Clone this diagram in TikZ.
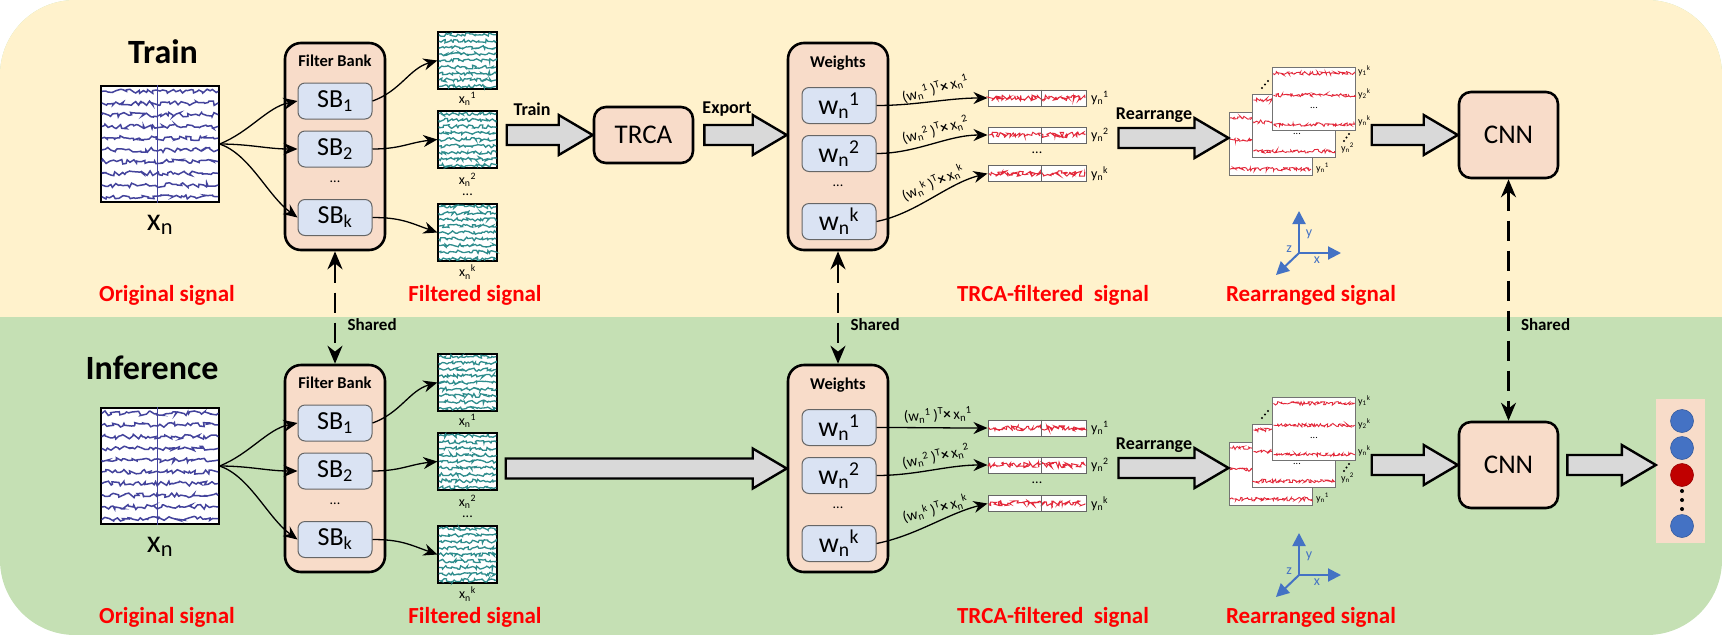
\documentclass[tikz,border=0pt]{standalone}
\usepackage{fontspec}
\setmainfont{Carlito}
\usetikzlibrary{calc,arrows.meta,decorations.pathmorphing}

\definecolor{panelyel}{HTML}{FFF2CC}
\definecolor{panelgrn}{HTML}{C5E0B4}
\definecolor{boxpeach}{HTML}{F8DCC9}
\definecolor{boxblue}{HTML}{DAE3F3}
\definecolor{arrgray}{HTML}{D9D9D9}
\definecolor{sigred}{HTML}{FF0000}
\definecolor{eegblue}{HTML}{43439C}
\definecolor{eegteal}{HTML}{2E8C8C}
\definecolor{trcared}{HTML}{E3283A}
\definecolor{axblue}{HTML}{4472C4}
\definecolor{outred}{HTML}{C00000}

\newcommand\fsz[1]{\fontsize{#1}{#1}\selectfont}
% one noisy trace across a signal box, at a fraction of its height
\newcommand\sigline[3]{\draw[#3] ($(#1.north west)!#2!(#1.south west)+(1.5,0)$) -- ($(#1.north east)!#2!(#1.south east)+(-1.5,0)$);}
\newcommand\traces[3]{\foreach \r [evaluate=\r as \f using (\r-0.5)/#2] in {1,...,#2} {\sigline{#1}{\f}{#3}}}
% fat grey arrow: height taken from the tail, length up to the tip
\newcommand\blockarrow[2]{\draw[bigarr] let \p1=(#1), \p2=(#2) in (\x1,\y1+10pt) -- (\x2-34pt,\y1+10pt) -- (\x2-34pt,\y1+20pt) -- (\x2,\y1) -- (\x2-34pt,\y1-20pt) -- (\x2-34pt,\y1-10pt) -- (\x1,\y1-10pt) -- cycle;}
\newcommand\proj[1]{(w\textsubscript{n}\textsuperscript{#1}\,)\textsuperscript{T}\textbf{×}\,x\textsubscript{n}\textsuperscript{#1}}

\begin{document}
\begin{tikzpicture}[x=1pt,y=-1pt,
  imgbox/.style={draw=black,line width=1.2pt,fill=white,inner sep=0pt},
  stackbox/.style={draw=black!55,line width=1pt,fill=white,inner sep=0pt,minimum width=83pt,minimum height=63pt},
  bankbox/.style={draw,line width=2.6pt,fill=boxpeach,rounded corners=16pt,minimum width=100pt,minimum height=207pt},
  bandbox/.style={draw=black!60,line width=1pt,fill=boxblue,rounded corners=7pt,inner sep=1pt,minimum width=74pt,minimum height=36pt,font=\fsz{26}},
  corebox/.style={draw,line width=2.6pt,fill=boxpeach,rounded corners=12pt,font=\fsz{27}},
  boxcap/.style={font=\fsz{16.5}\bfseries,inner sep=1pt},
  title/.style={font=\fsz{34}\bfseries},
  redlab/.style={text=sigred,font=\fsz{23}\bfseries},
  arrlab/.style={font=\fsz{18}\bfseries,inner sep=1pt},
  shlab/.style={font=\fsz{17}\bfseries},
  sml/.style={font=\fsz{14},inner sep=1pt},
  dotlab/.style={font=\fsz{14},inner sep=0pt},
  stacklab/.style={font=\fsz{10},inner sep=1pt},
  formula/.style={font=\fsz{15},inner sep=1pt},
  flow/.style={-{Stealth[length=14pt,width=12pt]},line width=1.3pt},
  sharearr/.style={{Stealth[length=18pt,width=15pt]}-{Stealth[length=18pt,width=15pt]},line width=2.4pt,dash pattern=on 20pt off 10pt},
  bigarr/.style={draw,line width=2.4pt,fill=arrgray,line join=miter},
  axarr/.style={-{Triangle[length=13pt,width=13pt]},draw=axblue,line width=2pt},
  eegline/.style={eegblue,line width=1.5pt,decorate,decoration={random steps,segment length=2.5pt,amplitude=2.4pt}},
  tealline/.style={eegteal,line width=1.3pt,decorate,decoration={random steps,segment length=1.8pt,amplitude=1.8pt}},
  redline/.style={trcared,line width=1pt,decorate,decoration={random steps,segment length=1.2pt,amplitude=2.8pt}},
  stackred/.style={trcared,line width=0.9pt,decorate,decoration={random steps,segment length=1.2pt,amplitude=1.8pt}}]
\useasboundingbox (0,0) rectangle (1724,638);
\pgfmathsetseed{11}

% panels
\begin{scope}
\clip[rounded corners=75pt] (0,0) rectangle (1722,635);
\fill[panelgrn] (0,0) rectangle (1722,635);
\fill[panelyel] (0,0) rectangle (1722,317);
\end{scope}
\node[title] (ttrain) at (163,52) {Train};
\node[title] (tinfer) at (152,368) {Inference};

\foreach \pn/\dya/\dyb/\ra/\rb/\rc in {T/0/0/15/15/25, I/322/330/3/12/15}{
\begin{scope}[shift={(0,\dya)}]
\node[imgbox,minimum width=118pt,minimum height=116pt] (orig\pn) at (160,144) {};
\traces{orig\pn}{10}{eegline}
\draw[eegblue,line width=0.8pt] ($(orig\pn.north)+(-3,0)$) -- ($(orig\pn.south)+(-3,0)$);
\node[font=\fsz{32}] (xn\pn) at (160,225) {x\textsubscript{n}};
\node[bankbox] (fb\pn) at (335,146.5) {};
\node[boxcap] (fbcap\pn) at (335,61) {Filter Bank};
\node[dotlab] (fbdots\pn) at (335,182) {...};
\node[dotlab] (xdots\pn) at (467.5,195) {...};
\foreach \i/\ys/\yf/\yl/\oa/\ob/\qa/\qb in {1/101/60.5/99/-12/6/-10/8, 2/149/139.5/180/0/0/0/3, k/217.5/232.5/272/10/-22/0/-10}{
  \node[bandbox] (sb\pn\i) at (335,\ys) {SB\textsubscript{\i}};
  \node[imgbox,minimum width=59pt,minimum height=57pt] (filt\pn\i) at (467.5,\yf) {};
  \traces{filt\pn\i}{9}{tealline}
  \node[sml] (xl\pn\i) at (467.5,\yl) {x\textsubscript{n}\textsuperscript{\i}};
  \draw[flow] (orig\pn.east) .. controls +(30,\oa) and +(-30,\ob) .. (sb\pn\i.west);
  \draw[flow] (sb\pn\i.east) .. controls +(28,\qa) and +(-28,\qb) .. (filt\pn\i.west);
}
\node[bankbox] (wt\pn) at (838,146.5) {};
\node[boxcap] (wtcap\pn) at (838,63) {Weights};
\node[dotlab] (wdots\pn) at (838,186) {...};
\foreach \i/\yw in {1/105.5,2/153.5,k/221.5}
  \node[bandbox,font=\fsz{28}] (w\pn\i) at (839,\yw) {w\textsubscript{n}\textsuperscript{\i}};
\node[redlab] (rl1\pn) at (167,295) {Original signal};
\node[redlab] (rl2\pn) at (475,295) {Filtered signal};
\node[redlab] (rl3\pn) at (1053,295) {TRCA-filtered~ signal};
\node[redlab] (rl4\pn) at (1311,295) {Rearranged signal};
% axes
\coordinate (ax\pn) at (1299,253);
\draw[axarr] (ax\pn) -- ++(0,-42);
\draw[axarr] (ax\pn) -- ++(42,0);
\draw[axarr] (ax\pn) -- ++(-23,22);
\node[sml,text=axblue] (axy\pn) at ($(ax\pn)+(10,-19)$) {y};
\node[sml,text=axblue] (axx\pn) at ($(ax\pn)+(18,7)$) {x};
\node[sml,text=axblue] (axz\pn) at ($(ax\pn)+(-10,-4)$) {z};
\end{scope}
\begin{scope}[shift={(0,\dyb)}]
\foreach \i/\yt/\ca/\cb/\rt in {1/98/0/0/\ra, 2/135/0/0/\rb, k/173.5/-8/10/\rc}{
  \node[imgbox,draw=black!60,line width=1pt,minimum width=98pt,minimum height=16pt] (trc\pn\i) at (1037,\yt) {};
  \sigline{trc\pn\i}{0.5}{redline}
  \draw[black!60,line width=0.6pt] ($(trc\pn\i.north)+(4,0)$) -- ($(trc\pn\i.south)+(4,0)$);
  \node[sml,anchor=west] (yl\pn\i) at (1090,\yt) {y\textsubscript{n}\textsuperscript{\i}};
  \draw[flow] (w\pn\i.east) .. controls +(40,\ca) and +(-40,\cb) .. node[formula,pos=0.56,anchor=south,rotate=\rt,yshift=4pt] (fm\pn\i) {\proj{\i}} (trc\pn\i.west);
}
\node[dotlab] (ydots\pn) at (1037,153) {...};
% rearranged stack, the k-th slice on top
\node[stackbox] (front\pn) at (1270.5,143.5) {};
\foreach \f in {0.1,0.44,0.9} {\sigline{front\pn}{\f}{stackred}}
\node[stackbox] (mid\pn) at (1294,125.5) {};
\foreach \f in {0.1,0.44,0.9} {\sigline{mid\pn}{\f}{stackred}}
\node[stacklab] (mdots\pn) at ($(mid\pn.north)!0.64!(mid\pn.south)+(3,0)$) {...};
\node[stackbox] (back\pn) at (1314,99) {};
\foreach \f in {0.1,0.44,0.9} {\sigline{back\pn}{\f}{stackred}}
\node[stacklab] (bdots\pn) at ($(back\pn.north)!0.64!(back\pn.south)$) {...};
\node[stacklab,anchor=west] (s1\pn) at (1357,71) {y\textsubscript{1}\textsuperscript{k}};
\node[stacklab,anchor=west] (s2\pn) at (1357,94) {y\textsubscript{2}\textsuperscript{k}};
\node[stacklab,anchor=west] (s3\pn) at (1357,121) {y\textsubscript{n}\textsuperscript{k}};
\node[stacklab,anchor=west] (s4\pn) at (1340,148) {y\textsubscript{n}\textsuperscript{2}};
\node[stacklab,anchor=west] (s5\pn) at (1315,168) {y\textsubscript{n}\textsuperscript{1}};
\foreach \k in {0,1,2} {
  \fill ($(1262,88)+(3*\k,-3.5*\k)$) circle (1.2pt);
  \fill ($(1344,141)+(2.5*\k,-3.5*\k)$) circle (1.2pt);
}
\node[corebox,minimum width=99pt,minimum height=86pt] (cnn\pn) at (1508.5,135) {CNN};
\blockarrow{$(trc\pn2.east)+(32,3)$}{front\pn.west}
\node[arrlab] (rearr\pn) at (1154,115) {Rearrange};
\blockarrow{$(cnn\pn.west)+(-86,0)$}{cnn\pn.west}
\end{scope}
}

% train only
\node[corebox,minimum width=99pt,minimum height=56pt] (trcaT) at (643.5,135) {TRCA};
\blockarrow{$(trcaT.west)+(-86,0)$}{trcaT.west}
\node[arrlab] (trainlab) at (532,109) {Train};
\blockarrow{$(trcaT.east)+(10,0)$}{wtT.west}
\node[arrlab] (exportlab) at (727,109) {Export};

% inference only
\blockarrow{$(wtI.west)+(-281,0)$}{wtI.west}
\node[fill=boxpeach,minimum width=49pt,minimum height=144pt] (vec) at (1680.5,471) {};
\foreach \j/\yy/\cc in {1/421/axblue,2/448/axblue,3/475/outred,4/526/axblue}
  \node[circle,fill=\cc,draw=\cc!80!black,line width=0.6pt,minimum size=23pt] (o\j) at (1682,\yy) {};
\foreach \yy in {491,500,509} \fill (1682,\yy) circle (2pt);
\blockarrow{$(cnnI.east)+(8,0)$}{vec.west}

% shared parts
\draw[sharearr] (fbT.south) -- node[shlab,pos=0.65,anchor=west,xshift=8pt] (sh1) {Shared} (fbI.north);
\draw[sharearr] (wtT.south) -- node[shlab,pos=0.65,anchor=west,xshift=8pt] (sh2) {Shared} (wtI.north);
\draw[sharearr] (cnnT.south) -- node[shlab,pos=0.6,anchor=west,xshift=8pt] (sh3) {Shared} (cnnI.north);
\end{tikzpicture}
\end{document}
